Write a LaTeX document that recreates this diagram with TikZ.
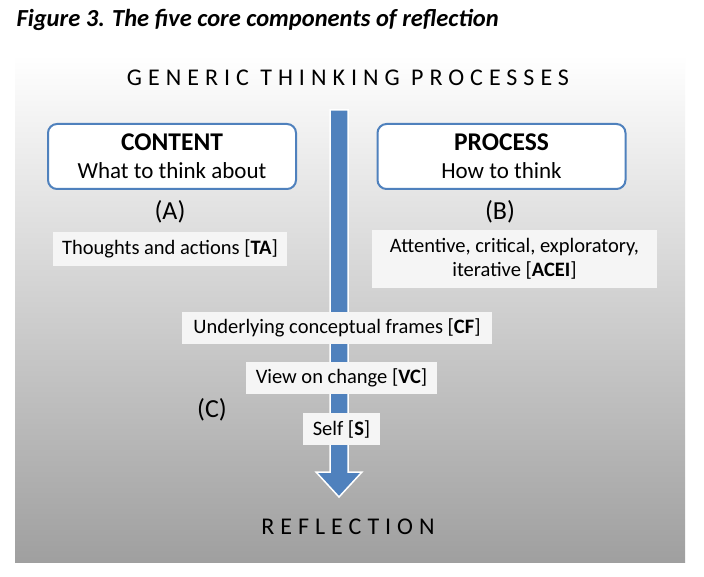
\documentclass[tikz,border=0pt]{standalone}
\usepackage{fontspec}
\setmainfont{Carlito}
\begin{document}
\begin{tikzpicture}[x=1pt,y=-1pt,
 hbox/.style={draw={rgb,255:red,79;green,129;blue,189},line width=2pt,rounded corners=9pt,fill=white,minimum width=248pt,minimum height=65pt,align=center,font=\fontsize{23}{28}\selectfont,inner sep=0pt},
 tbox/.style={fill=gray!8,draw=none,align=center,font=\fontsize{20.5}{24}\selectfont,inner sep=0pt},
 lab/.style={font=\fontsize{26}{28}\selectfont}]
\useasboundingbox (0,0) rectangle (704,577);
\fill[white] (0,0) rectangle (704,577);
\node[anchor=west,font=\fontsize{24.5}{28}\selectfont\bfseries\itshape] (title) at (13,20) {Figure 3. The five core components of reflection};
\shade[top color=white,bottom color=gray!75] (15,55) rectangle (685,562);
\node[font=\fontsize{24}{28}\selectfont\addfontfeature{LetterSpace=25}] (gen) at (348,78) {GENERIC THINKING PROCESSES};
\node[font=\fontsize{24}{28}\selectfont\addfontfeature{LetterSpace=25}] (refl) at (348,527) {REFLECTION};
\definecolor{ab}{RGB}{79,129,189}
\draw[white,line width=1.5pt,fill=ab] (330,110) -- (348,110) -- (348,472) -- (362,472) -- (339,497) -- (316,472) -- (330,472) -- cycle;
\node[hbox] (content) at (172,156.5) {\fontsize{25.5}{28}\selectfont\textbf{CONTENT}\\What to think about};
\node[hbox] (process) at (501.5,156.5) {\fontsize{25.5}{28}\selectfont\textbf{PROCESS}\\How to think};
\node[lab] (A) at (170,212) {(A)};
\node[lab] (B) at (500,212) {(B)};
\node[lab] (C) at (212,410) {(C)};
\node[tbox,minimum width=234pt,minimum height=34pt] (ta) at (170,249) {Thoughts and actions [\textbf{TA}]};
\node[tbox,minimum width=285pt,minimum height=58pt] (acei) at (514.5,259) {Attentive, critical, exploratory,\\iterative [\textbf{ACEI}]};
\node[tbox,minimum width=310pt,minimum height=32pt] (cf) at (337,328) {Underlying conceptual frames [\textbf{CF}]};
\node[tbox,minimum width=191pt,minimum height=32pt] (vc) at (341.5,378) {View on change [\textbf{VC}]};
\node[tbox,minimum width=77pt,minimum height=32pt] (s) at (341.5,429) {Self [\textbf{S}]};
\end{tikzpicture}
\end{document}
